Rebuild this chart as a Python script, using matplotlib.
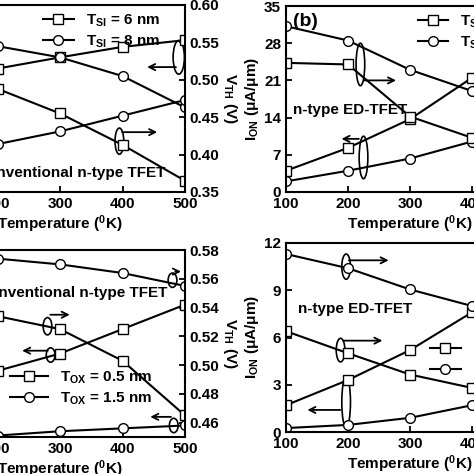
import matplotlib
matplotlib.use("Agg")
import matplotlib.pyplot as plt
from matplotlib.patches import Ellipse

plt.rcParams['font.family'] = ['Liberation Sans', 'DejaVu Sans']
plt.rcParams['font.weight'] = 'bold'
plt.rcParams['axes.labelweight'] = 'bold'
plt.rcParams['font.size'] = 11
plt.rcParams['mathtext.fontset'] = 'custom'
plt.rcParams['mathtext.rm'] = 'Liberation Sans:bold'
plt.rcParams['mathtext.it'] = 'Liberation Sans:bold'
plt.rcParams['mathtext.bf'] = 'Liberation Sans:bold'
plt.rcParams['mathtext.default'] = 'rm'

T = [100, 200, 300, 400, 500]
T4 = [100, 200, 300, 400]

# (a) conventional, T_SI (values in V_TH-axis units)
a_sq_left = [0.495, 0.515, 0.530, 0.544, 0.553]
a_ci_left = [0.550, 0.545, 0.530, 0.505, 0.463]
a_sq_vth = [0.520, 0.488, 0.455, 0.413, 0.365]
a_ci_vth = [0.400, 0.414, 0.431, 0.452, 0.473]
# (b) ED-TFET, T_SI (I_ON units)
b_ci_r = [31.2, 28.5, 23.0, 19.0]
b_sq_r = [24.3, 24.0, 14.2, 10.2]
b_sq_l = [4.0, 8.3, 13.7, 21.5]
b_ci_l = [2.0, 4.0, 6.3, 9.5]
# (c) conventional, T_OX
c_ci_r = [0.578, 0.574, 0.570, 0.564, 0.555]
c_sq_r = [0.542, 0.534, 0.525, 0.503, 0.465]
c_sq_l = [0.484, 0.496, 0.508, 0.525, 0.542]
c_ci_l = [0.449, 0.451, 0.454, 0.456, 0.458]
# (d) ED-TFET, T_OX
d_ci_r = [11.3, 10.4, 9.05, 8.0]
d_sq_r = [6.4, 5.0, 3.65, 2.8]
d_sq_l = [1.7, 3.3, 5.2, 7.6]
d_ci_l = [0.25, 0.45, 0.9, 1.7]

W = H = 474
fig = plt.figure(figsize=(4.74, 4.74), dpi=100)

def ax_at(l, r, t, b):
    return fig.add_axes([l / W, 1 - b / H, (r - l) / W, (b - t) / H])

mk = dict(color='black', lw=1.5, markersize=7, markerfacecolor='white', markeredgecolor='black')
arw = dict(arrowstyle='->', lw=1.3)

def style(ax):
    for s in ax.spines.values():
        s.set_linewidth1 = None
        s.set_linewidth(1.5)
    ax.tick_params(width=1.3, direction='in', length=4)

def ell(ax, x, y, w, h):
    ax.add_patch(Ellipse((x, y), w, h, fill=False, lw=1.2, clip_on=False))

# top-left
ax = ax_at(-65, 185, 5, 192)
ax.plot(T, a_sq_left, marker='s', label='T$_{SI}$ = 6 nm', **mk)
ax.plot(T, a_ci_left, marker='o', label='T$_{SI}$ = 8 nm', **mk)
ax.plot(T, a_sq_vth, marker='s', **mk)
ax.plot(T, a_ci_vth, marker='o', **mk)
ax.set_xlim(100, 500); ax.set_ylim(0.35, 0.60)
ax.yaxis.tick_right(); ax.yaxis.set_label_position('right')
ax.set_yticks([0.35, 0.40, 0.45, 0.50, 0.55, 0.60])
ax.set_ylabel('V$_{TH}$ (V)', rotation=270, labelpad=14)
ax.set_xticks([100, 200, 300, 400, 500])
ax.set_xlabel('Temperature ($^0$K)', labelpad=2)
ax.legend(loc='upper right', bbox_to_anchor=(0.93, 1.0), frameon=False, handlelength=2, borderaxespad=0.1, labelspacing=0.3)
ax.text(0.92, 0.08, 'Conventional n-type TFET', transform=ax.transAxes, ha='right', fontsize=11)
style(ax)
ell(ax, 490, 0.53, 18, 0.045)
ax.annotate('', xy=(435, 0.517), xytext=(490, 0.517), arrowprops=arw)
ell(ax, 395, 0.418, 14, 0.035)
ax.annotate('', xy=(460, 0.43), xytext=(395, 0.43), arrowprops=arw)
ell(ax, 180, 0.418, 14, 0.035)

# top-right
ax = ax_at(286, 534, 6, 192)
ax.plot(T4, b_sq_l, marker='s', label='T$_{SI}$ = 6 nm', **mk)
ax.plot(T4, b_ci_l, marker='o', label='T$_{SI}$ = 8 nm', **mk)
ax.plot(T4, b_sq_r, marker='s', **mk)
ax.plot(T4, b_ci_r, marker='o', **mk)
ax.set_xlim(100, 500); ax.set_ylim(0, 35)
ax.set_yticks([0, 7, 14, 21, 28, 35])
ax.set_xticks([100, 200, 300, 400, 500])
ax.set_ylabel('I$_{ON}$ (μA/μm)', labelpad=2)
ax.set_xlabel('Temperature ($^0$K)', labelpad=2)
ax.legend(loc='upper left', bbox_to_anchor=(0.5, 1.0), frameon=False, handlelength=2, borderaxespad=0.1, labelspacing=0.3)
ax.text(0.03, 0.96, '(b)', transform=ax.transAxes, ha='left', va='top', fontsize=14)
ax.text(0.03, 0.42, 'n-type ED-TFET', transform=ax.transAxes, ha='left', fontsize=11)
style(ax)
ell(ax, 220, 24, 14, 8)
ax.annotate('', xy=(282, 21), xytext=(222, 21), arrowprops=arw)
ell(ax, 225, 6.5, 14, 8)
ax.annotate('', xy=(185, 10), xytext=(222, 10), arrowprops=arw)

# bottom-left
ax = ax_at(-65, 185, 250, 437)
ax.plot(T, c_sq_l, marker='s', label='T$_{OX}$ = 0.5 nm', **mk)
ax.plot(T, c_ci_l, marker='o', label='T$_{OX}$ = 1.5 nm', **mk)
ax.plot(T, c_sq_r, marker='s', **mk)
ax.plot(T, c_ci_r, marker='o', **mk)
ax.set_xlim(100, 500); ax.set_ylim(0.45, 0.58)
ax.yaxis.tick_right(); ax.yaxis.set_label_position('right')
ax.set_yticks([0.46, 0.48, 0.50, 0.52, 0.54, 0.56, 0.58])
ax.set_ylabel('V$_{TH}$ (V)', rotation=270, labelpad=14)
ax.set_xticks([100, 200, 300, 400, 500])
ax.set_xlabel('Temperature ($^0$K)', labelpad=2)
ax.legend(loc='lower right', bbox_to_anchor=(0.9, 0.12), frameon=False, handlelength=2.5, borderaxespad=0.1, labelspacing=0.3)
ax.text(0.93, 0.75, 'Conventional n-type TFET', transform=ax.transAxes, ha='right', fontsize=11)
style(ax)
ell(ax, 280, 0.527, 14, 0.012)
ax.annotate('', xy=(320, 0.535), xytext=(280, 0.535), arrowprops=arw)
ell(ax, 285, 0.507, 14, 0.01)
ax.annotate('', xy=(235, 0.51), xytext=(285, 0.51), arrowprops=arw)
ell(ax, 480, 0.559, 14, 0.01)
ax.annotate('', xy=(498, 0.565), xytext=(480, 0.565), arrowprops=arw)
ell(ax, 482, 0.458, 14, 0.01)
ax.annotate('', xy=(440, 0.464), xytext=(482, 0.464), arrowprops=arw)

# bottom-right
ax = ax_at(286, 534, 243, 432)
ax.plot(T4, d_sq_l, marker='s', label='T$_{OX}$ = 0.5 nm', **mk)
ax.plot(T4, d_ci_l, marker='o', label='T$_{OX}$ = 1.5 nm', **mk)
ax.plot(T4, d_sq_r, marker='s', **mk)
ax.plot(T4, d_ci_r, marker='o', **mk)
ax.set_xlim(100, 500); ax.set_ylim(0, 12)
ax.set_yticks([0, 3, 6, 9, 12])
ax.set_xticks([100, 200, 300, 400, 500])
ax.set_ylabel('I$_{ON}$ (μA/μm)', labelpad=2)
ax.set_xlabel('Temperature ($^0$K)', labelpad=2)
ax.legend(loc='center left', bbox_to_anchor=(0.55, 0.38), frameon=False, handlelength=2, borderaxespad=0.1, labelspacing=0.3)
ax.text(0.05, 0.63, 'n-type ED-TFET', transform=ax.transAxes, ha='left', fontsize=11)
style(ax)
ell(ax, 197, 10.5, 14, 1.6)
ax.annotate('', xy=(270, 10.9), xytext=(197, 10.9), arrowprops=arw)
ell(ax, 188, 5.2, 14, 1.5)
ax.annotate('', xy=(260, 5.8), xytext=(188, 5.8), arrowprops=arw)
ell(ax, 197, 1.9, 14, 3.2)
ax.annotate('', xy=(130, 1.4), xytext=(192, 1.4), arrowprops=arw)

fig.savefig('out.png', dpi=100)
